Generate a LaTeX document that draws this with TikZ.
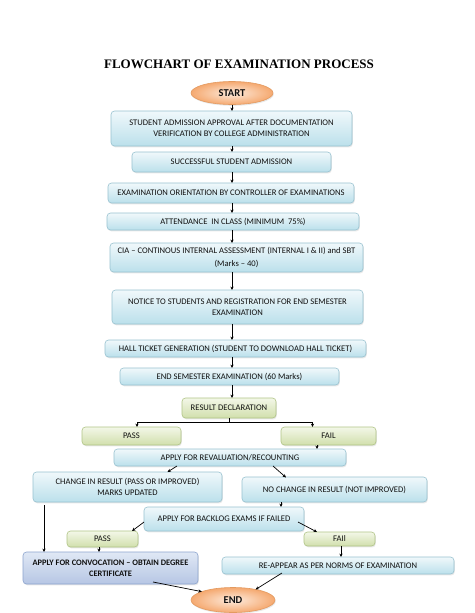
\documentclass[tikz,border=0pt]{standalone}
\usepackage{fontspec}
\setmainfont{Carlito}
\newfontfamily\titlefont{Liberation Serif}
\usetikzlibrary{arrows.meta,shapes.geometric,shadows,calc}
\definecolor{bluetop}{HTML}{F0F8FB}
\definecolor{bluebot}{HTML}{BBE0EB}
\definecolor{bluedraw}{HTML}{98C2D0}
\definecolor{greentop}{HTML}{F3F7E8}
\definecolor{greenbot}{HTML}{D1DFAC}
\definecolor{greendraw}{HTML}{B0C486}
\definecolor{convtop}{HTML}{E0E8F5}
\definecolor{convbot}{HTML}{B6C6E4}
\definecolor{convdraw}{HTML}{8CA4CE}
\definecolor{orin}{HTML}{FDEBDD}
\definecolor{orout}{HTML}{F5A970}
\definecolor{ordraw}{HTML}{E39A60}
\definecolor{txt}{HTML}{101010}
\begin{document}
\begin{tikzpicture}[x=1pt,y=-1pt,
  box/.style={rectangle, rounded corners=3.5pt, inner sep=1pt, outer sep=0pt,
    anchor=north west, align=center, text=txt, line width=0.6pt,
    font=\fontsize{8.6}{10.8}\selectfont,
    drop shadow={opacity=0.18, shadow xshift=0.8pt, shadow yshift=-1.3pt}},
  bluebox/.style={box, draw=bluedraw, top color=bluetop, bottom color=bluebot},
  greenbox/.style={box, draw=greendraw, top color=greentop, bottom color=greenbot},
  convbox/.style={box, draw=convdraw, top color=convtop, bottom color=convbot,
    font=\bfseries\fontsize{8.4}{11}\selectfont},
  oval/.style={ellipse, inner sep=0pt, outer sep=0pt, draw=ordraw, line width=0.6pt,
    inner color=orin, outer color=orout, text=txt,
    font=\bfseries\fontsize{10.5}{12}\selectfont,
    drop shadow={opacity=0.18, shadow xshift=0.8pt, shadow yshift=-1.3pt}},
  arr/.style={-{Stealth[length=3.4pt,width=3.2pt]}, line width=0.7pt, black},
  ln/.style={line width=0.7pt, black}
]
\useasboundingbox (0,0) rectangle (474,613);
\fill[white] (0,0) rectangle (474,613);

\node[font=\titlefont\bfseries\fontsize{13}{15}\selectfont] (title) at (239,64) {FLOWCHART OF EXAMINATION PROCESS};

\coordinate (col) at (232,0);

\node[oval, minimum width=82pt, minimum height=23pt] (start) at (232,93) {START};

\node[bluebox, minimum width=241pt, minimum height=35pt] (b1) at (111,111)
  {STUDENT ADMISSION APPROVAL AFTER DOCUMENTATION\\VERIFICATION BY COLLEGE ADMINISTRATION};
\node[bluebox, minimum width=199pt, minimum height=20pt] (b2) at (132,152)
  {SUCCESSFUL STUDENT ADMISSION};
\node[bluebox, minimum width=246pt, minimum height=20pt] (b3) at (108,183)
  {EXAMINATION ORIENTATION BY CONTROLLER OF EXAMINATIONS};
\node[bluebox, minimum width=252pt, minimum height=17pt] (b4) at (107,213)
  {ATTENDANCE\ \ IN CLASS (MINIMUM\ \ 75\%)};
\node[bluebox, minimum width=253pt, minimum height=29pt, font=\fontsize{8.6}{12.5}\selectfont] (b5) at (110,243)
  {CIA -- CONTINOUS INTERNAL ASSESSMENT (INTERNAL I \& II) and SBT\\(Marks -- 40)};
\node[bluebox, minimum width=251pt, minimum height=34pt] (b6) at (112,290)
  {NOTICE TO STUDENTS AND REGISTRATION FOR END SEMESTER\\EXAMINATION};
\node[bluebox, minimum width=261pt, minimum height=17pt] (b7) at (105,340)
  {HALL TICKET GENERATION (STUDENT TO DOWNLOAD HALL TICKET)};
\node[bluebox, minimum width=219pt, minimum height=17pt] (b8) at (120,368)
  {END SEMESTER EXAMINATION (60 Marks)};
\node[greenbox, minimum width=94pt, minimum height=20pt] (res) at (182,398)
  {RESULT DECLARATION};

\node[greenbox, minimum width=99pt, minimum height=18pt] (pass) at (82,427) {PASS};
\node[greenbox, minimum width=95pt, minimum height=18pt] (fail) at (281,427) {FAIL};

\node[bluebox, minimum width=232pt, minimum height=17pt] (reval) at (114,449)
  {APPLY FOR REVALUATION/RECOUNTING};
\node[bluebox, minimum width=189pt, minimum height=30pt] (change) at (33,472)
  {CHANGE IN RESULT (PASS OR IMPROVED)\\MARKS UPDATED};
\node[bluebox, minimum width=185pt, minimum height=25pt] (nochange) at (242,477)
  {NO CHANGE IN RESULT (NOT IMPROVED)};
\node[bluebox, minimum width=160pt, minimum height=24pt] (backlog) at (144,507)
  {APPLY FOR BACKLOG EXAMS IF FAILED};
\node[greenbox, minimum width=71pt, minimum height=16pt] (pass2) at (67,531) {PASS};
\node[greenbox, minimum width=71pt, minimum height=14pt] (fail2) at (304,532) {FAIl};
\node[convbox, minimum width=175pt, minimum height=32pt] (conv) at (23,552)
  {APPLY FOR CONVOCATION -- OBTAIN DEGREE\\CERTIFICATE};
\node[bluebox, minimum width=232pt, minimum height=17pt] (reap) at (222,557)
  {RE-APPEAR AS PER NORMS OF EXAMINATION};
\node[oval, minimum width=84pt, minimum height=25pt] (endn) at (233,600) {END};

% main column
\draw[arr] (start.south -| col) -- (b1.north -| col);
\draw[arr] (b1.south -| col) -- (b2.north -| col);
\draw[arr] (b2.south -| col) -- (b3.north -| col);
\draw[arr] (b3.south -| col) -- (b4.north -| col);
\draw[arr] (b4.south -| col) -- (b5.north -| col);
\draw[arr] (b5.south -| col) -- (b6.north -| col);
\draw[arr] (b6.south -| col) -- (b7.north -| col);
\draw[arr] (b7.south -| col) -- (b8.north -| col);
\draw[arr] (b8.south -| col) -- (res.north -| col);

% split
\coordinate (split) at ($(res.south)+(0,4)$);
\draw[ln] (res.south) -- (split);
\draw[arr] (split) -| ([xshift=5.5pt]pass.north);
\draw[arr] (split) -| ([xshift=-16pt]fail.north);

\draw[arr] ([xshift=-11.5pt]fail.south) -- ([xshift=-11.5pt]fail.south |- reval.north);
\draw[arr] ([xshift=-53pt]reval.south) -- ([xshift=40pt]change.north);
\draw[arr] ([xshift=43pt]reval.south) -- ([xshift=-48.5pt,yshift=-0.5pt]nochange.north);
\draw[arr] ([xshift=-53.5pt]nochange.south) -- ([xshift=-53.5pt]nochange.south |- backlog.north);
\draw[arr] ([yshift=-3pt]change.south -| conv.west) ++(21pt,0) coordinate (cl) -- (cl |- conv.north);
\draw[arr] ([yshift=-3pt]backlog.west) -- ([xshift=29.5pt]pass2.north);
\draw[arr] ([yshift=-3pt,xshift=-6pt]backlog.east) -- ([xshift=-22.5pt]fail2.north);
\draw[arr] ([xshift=-3.5pt]pass2.south) -- ([xshift=-3.5pt]pass2.south |- conv.north);
\draw[arr] ([xshift=1.5pt]fail2.south) -- ([xshift=1.5pt]fail2.south |- reap.north);
\draw[arr] ([xshift=42.5pt,yshift=2pt]conv.south) -- (endn.165);
\draw[arr] ([xshift=-56pt,yshift=1pt]reap.south) -- (endn.25);
\end{tikzpicture}
\end{document}
